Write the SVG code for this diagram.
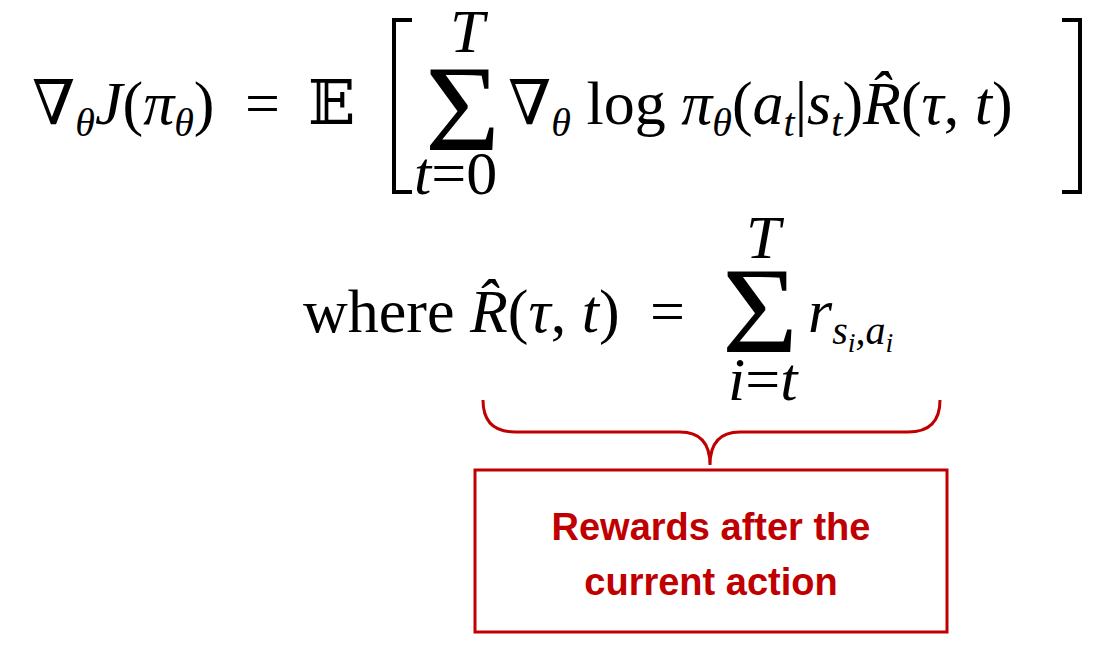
<svg xmlns="http://www.w3.org/2000/svg" width="1100" height="656" viewBox="0 0 1100 656">
<style>
.m{font-family:"Liberation Serif","DejaVu Serif",serif;font-size:62px;fill:#000}
.i{font-style:italic}
.s{font-size:40px}
.sg{font-family:"Liberation Serif","DejaVu Serif",serif;font-size:122px;fill:#000}
.red{fill:none;stroke:#c00000;stroke-width:3}
.lbl{font-family:"Liberation Sans",Arial,sans-serif;font-weight:bold;font-size:38px;fill:#c00000;text-anchor:middle}
.br{fill:none;stroke:#000;stroke-width:4}
</style>
<g id="eq1">
<text class="m" x="32" y="124">∇<tspan class="i s" dy="12">θ</tspan><tspan class="i" dy="-12">J</tspan>(<tspan class="i">π</tspan><tspan class="i s" dy="12">θ</tspan><tspan dy="-12">)</tspan></text>
<text class="m" x="245" y="124">=</text>
<text class="m" x="308" y="124" font-family="DejaVu Serif,serif" font-size="52">𝔼</text>
<path class="br" d="M412,20 L394,20 L394,192 L412,192 M1062,20 L1080,20 L1080,192 L1062,192"/>
<text class="m i" x="450" y="52" font-size="36">T</text>
<text class="sg" x="425" y="150" textLength="75" lengthAdjust="spacingAndGlyphs">Σ</text>
<text class="m" x="414" y="194" font-size="36"><tspan class="i">t</tspan>=0</text>
<text class="m" x="508" y="124" font-size="65">∇<tspan class="i s" dy="12">θ</tspan><tspan dy="-12"> log </tspan><tspan class="i">π</tspan><tspan class="i s" dy="12">θ</tspan><tspan dy="-12">(</tspan><tspan class="i">a</tspan><tspan class="i s" dy="12">t</tspan><tspan dy="-12">|</tspan><tspan class="i">s</tspan><tspan class="i s" dy="12">t</tspan><tspan dy="-12">)</tspan><tspan class="i">R̂</tspan>(<tspan class="i">τ</tspan>, <tspan class="i">t</tspan>)</text>
</g>
<g id="eq2">
<text class="m" x="303" y="332">where <tspan class="i">R̂</tspan>(<tspan class="i">τ</tspan>, <tspan class="i">t</tspan>)</text>
<text class="m" x="650" y="332">=</text>
<text class="m i" x="746" y="258" font-size="36">T</text>
<text class="sg" x="722" y="352" textLength="76" lengthAdjust="spacingAndGlyphs">Σ</text>
<text class="m i" x="728" y="400" font-size="36">i<tspan font-style="normal">=</tspan>t</text>
<text class="m i" x="808" y="332">r<tspan class="s" dy="12">s</tspan><tspan font-size="28" dy="8">i</tspan><tspan class="s" dy="-8">,a</tspan><tspan font-size="28" dy="8">i</tspan></text>
</g>
<g id="connectors">
<path class="red" d="M483,400 Q483,432 515,432 L680,432 Q710,432 710,465 Q710,432 740,432 L908,432 Q940,432 940,400"/>
</g>
<g id="label">
<rect class="red" x="475" y="470" width="472" height="162"/>
<text class="lbl" x="711" y="540">Rewards after the</text>
<text class="lbl" x="711" y="595">current action</text>
</g>
</svg>
